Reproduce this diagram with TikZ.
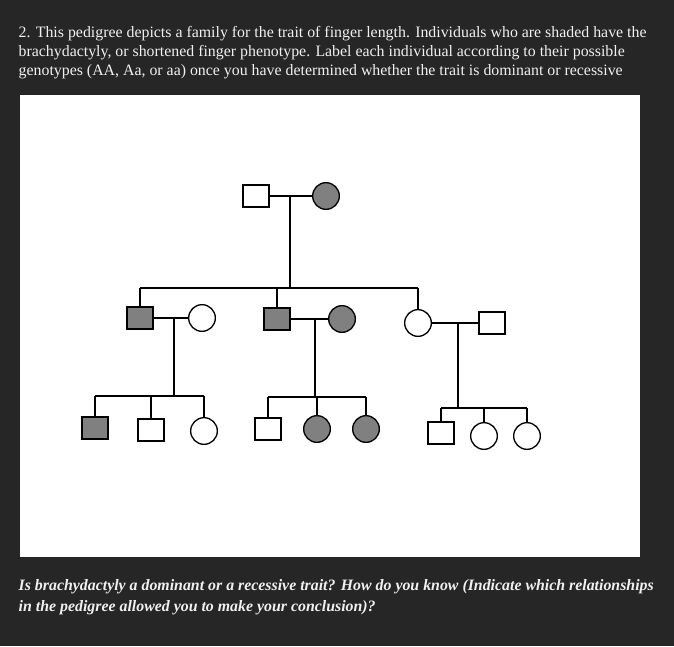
\documentclass[tikz,border=0pt]{standalone}
\usepackage{fontspec}
\setmainfont{Liberation Serif}
\usetikzlibrary{positioning,calc}
\definecolor{bg}{HTML}{262626}
\definecolor{aff}{HTML}{808080}
\begin{document}
\begin{tikzpicture}[
  x=0.75pt,y=-0.75pt,
  line width=1pt,
  male/.style={draw,rectangle,inner sep=0pt,minimum width=19.5pt,minimum height=16.5pt},
  female/.style={draw,circle,inner sep=0pt,minimum size=20pt},
  shaded/.style={fill=aff},
  txt/.style={text=white!94!black,align=left,inner sep=0pt,anchor=north west}]
\useasboundingbox (0,0) rectangle (674,646);
\fill[bg] (0,0) rectangle (674,646);
\fill[white] (20,95) rectangle (640,557);
\node[txt,font=\fontsize{11.9}{14.25}\selectfont] (head) at (18,26) {2. This pedigree depicts a family for the trait of finger length. Individuals who are shaded have the\\brachydactyly, or shortened finger phenotype. Label each individual according to their possible\\genotypes (AA, Aa, or aa) once you have determined whether the trait is dominant or recessive};
\node[txt,font=\fontsize{11.9}{15.75}\selectfont\bfseries\itshape] (ask) at (18,579) {Is brachydactyly a dominant or a recessive trait? How do you know (Indicate which relationships\\in the pedigree allowed you to make your conclusion)?};
% generation I
\node[male] (m1) at (256,196) {};
\node[female,shaded] (f1) at (326,196) {};
% generation II
\node[male,shaded] (m2) at (140,318) {};
\node[female] (f2) at (202,318) {};
\node[male,shaded] (m3) at (277,319) {};
\node[female,shaded] (f3) at (342,319) {};
\node[female] (f4) at (418,323) {};
\node[male] (m4) at (492,323) {};
% generation III
\node[male,shaded] (c1) at (95,428) {};
\node[male] (c2) at (151,430) {};
\node[female] (c3) at (204,431) {};
\node[male] (c4) at (268,429) {};
\node[female,shaded] (c5) at (317,429) {};
\node[female,shaded] (c6) at (366,429) {};
\node[male] (c7) at (441,433) {};
\node[female] (c8) at (484,436) {};
\node[female] (c9) at (527,436) {};
% couples and sibships
\coordinate (u1) at (290,196);
\coordinate (s1) at (290,288);
\coordinate (u2) at (174,318);
\coordinate (s2) at (174,396);
\coordinate (u3) at (315,319);
\coordinate (s3) at (315,397);
\coordinate (u4) at (458,323);
\coordinate (s4) at (458,408);
\draw (m1) -- (f1);
\draw (m2) -- (f2);
\draw (m3) -- (f3);
\draw (f4) -- (m4);
\draw (u1) -- (s1);
\draw (u2) -- (s2);
\draw (u3) -- (s3);
\draw (u4) -- (s4);
\draw (m2.north |- s1) -- (f4.north |- s1);
\draw (c1.north |- s2) -- (c3.north |- s2);
\draw (c4.north |- s3) -- (c6.north |- s3);
\draw (c7.north |- s4) -- (c9.north |- s4);
\foreach \k in {m2,m3,f4} \draw (\k.north |- s1) -- (\k.north);
\foreach \k in {c1,c2,c3} \draw (\k.north |- s2) -- (\k.north);
\foreach \k in {c4,c5,c6} \draw (\k.north |- s3) -- (\k.north);
\foreach \k in {c7,c8,c9} \draw (\k.north |- s4) -- (\k.north);
\end{tikzpicture}
\end{document}
